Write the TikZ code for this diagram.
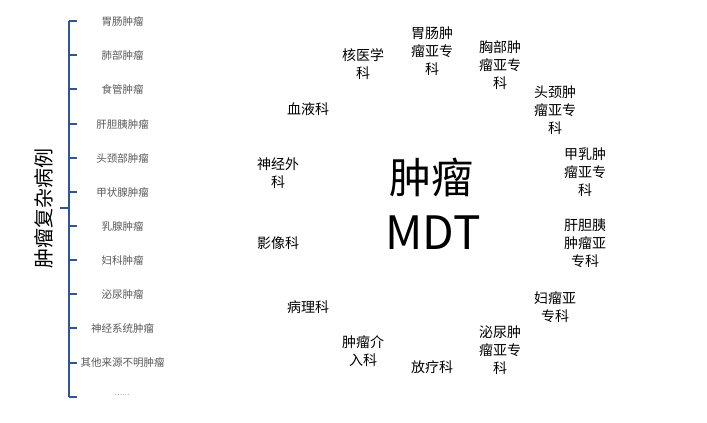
\documentclass[tikz,border=0pt]{standalone}
\usepackage{fontspec}
\setmainfont{Noto Sans CJK SC}
\definecolor{bracketblue}{HTML}{2F5597}
\definecolor{smallgray}{HTML}{595959}
\begin{document}
\begin{tikzpicture}[x=1bp,y=-1bp,
  dept/.style={inner sep=0pt,align=center,text=black,font=\fontsize{14bp}{18bp}\selectfont},
  small/.style={inner sep=0pt,text=smallgray,font=\fontsize{10.5bp}{12bp}\selectfont},
  brk/.style={draw=bracketblue,line width=2bp}]
\useasboundingbox (0,0) rectangle (707,422);
% bracket
\coordinate (top) at (69,21);
\coordinate (bot) at (69,397);
\coordinate (mid) at (69,208);
\coordinate (midl) at (60,208);
\draw[brk] (top) -- (bot);
\draw[brk] (mid) -- (midl);
\node[rotate=90,inner sep=0pt,font=\fontsize{20bp}{22bp}\selectfont] (title) at (44,208) {肿瘤复杂病例};
\foreach \y/\t [count=\i] in {21/胃肠肿瘤,55/肺部肿瘤,89/食管肿瘤,124/肝胆胰肿瘤,158/头颈部肿瘤,192/甲状腺肿瘤,226/乳腺肿瘤,260/妇科肿瘤,294/泌尿肿瘤,328/神经系统肿瘤,363/其他来源不明肿瘤}{
  \coordinate (t\i) at (69,\y);
  \coordinate (e\i) at (77,\y);
  \draw[brk] (t\i) -- (e\i);
  \node[small] (s\i) at (122.5,\y) {\t};
}
\coordinate (tb) at (77,397);
\draw[brk] (bot) -- (tb);
\node[small,font=\fontsize{7bp}{8bp}\selectfont] (dots) at (122,395) {……};
% centre
\node[inner sep=0pt,font=\fontsize{42bp}{46bp}\selectfont] (zl) at (431,177) {肿瘤};
\node[inner sep=0pt,font=\fontsize{46bp}{50bp}\selectfont] (mdt) at (433,233) {MDT};
% departments
\node[dept] (d1) at (432,51) {胃肠肿\\瘤亚专\\科};
\node[dept] (d2) at (500,65) {胸部肿\\瘤亚专\\科};
\node[dept] (d3) at (555,110) {头颈肿\\瘤亚专\\科};
\node[dept] (d4) at (585,172) {甲乳肿\\瘤亚专\\科};
\node[dept] (d5) at (585,243) {肝胆胰\\肿瘤亚\\专科};
\node[dept] (d6) at (555,307) {妇瘤亚\\专科};
\node[dept] (d7) at (500,350) {泌尿肿\\瘤亚专\\科};
\node[dept] (d8) at (432,367) {放疗科};
\node[dept] (d9) at (363,351) {肿瘤介\\入科};
\node[dept] (d10) at (308,307) {病理科};
\node[dept] (d11) at (278,243) {影像科};
\node[dept] (d12) at (278,173) {神经外\\科};
\node[dept] (d13) at (308,109) {血液科};
\node[dept] (d14) at (363,64) {核医学\\科};
\end{tikzpicture}
\end{document}
